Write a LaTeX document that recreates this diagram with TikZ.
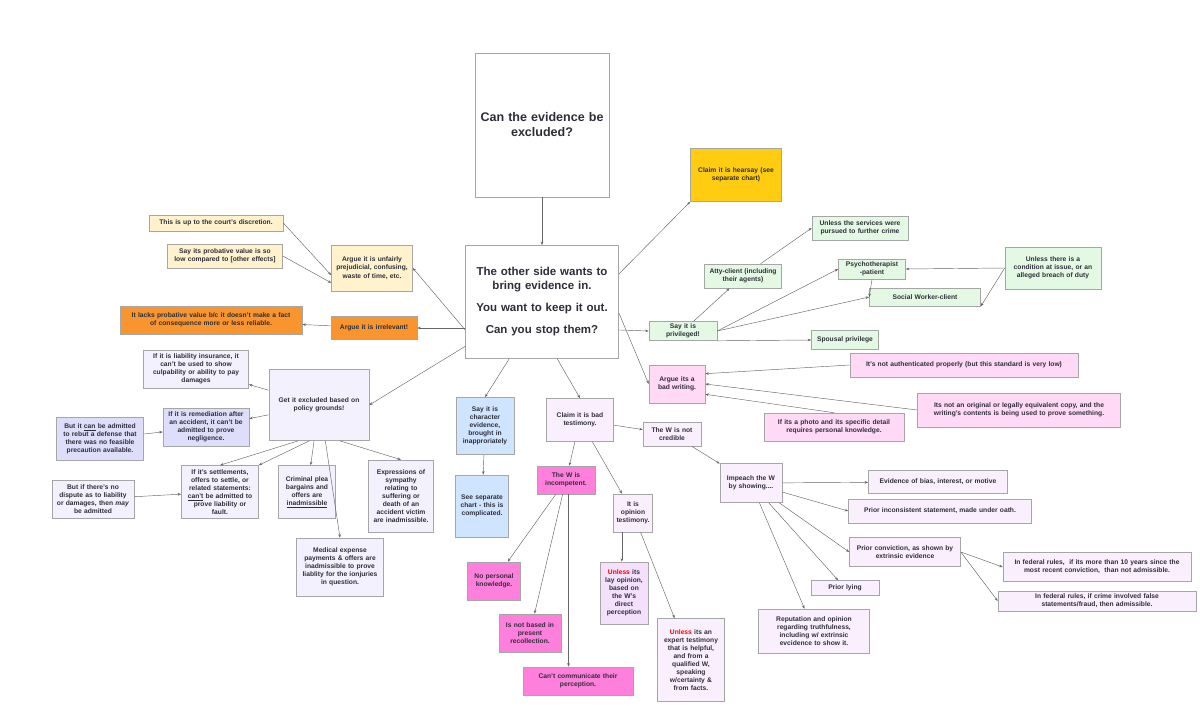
\documentclass[tikz,border=0pt]{standalone}
\usepackage{fontspec}
\setmainfont{Liberation Sans}
\usetikzlibrary{arrows.meta}
\definecolor{cream}{HTML}{FFF2CC}
\definecolor{orng}{HTML}{F8952F}
\definecolor{gold}{HTML}{FFCC11}
\definecolor{lav}{HTML}{F2F1FD}
\definecolor{lavd}{HTML}{DEDDFA}
\definecolor{lblue}{HTML}{CFE4FF}
\definecolor{pinkw}{HTML}{FFD9F5}
\definecolor{mag}{HTML}{FF80DC}
\definecolor{lpink}{HTML}{FAF0FD}
\definecolor{mpink}{HTML}{F4E0FA}
\definecolor{grn}{HTML}{E4F9E4}
\definecolor{txt}{HTML}{2E2E3A}
\tikzset{
 box/.style={draw=black!35, line width=0.6pt, align=center, inner sep=1pt, text=txt,
   font=\bfseries\fontsize{6.7}{8.1}\selectfont},
 big/.style={font=\bfseries\fontsize{12.5}{15}\selectfont},
 ar/.style={draw=black!60, line width=0.45pt, -{Stealth[length=3.5pt,width=2.6pt]}}
}
\newcommand\bx[7][]{\pgfmathsetmacro\tw{#5-4}%
 \node[box,fill=#2,minimum width=#5pt,minimum height=#6pt,text width=\tw pt,#1] (#3) at (#4) {#7};}
\begin{document}
\begin{tikzpicture}[x=1pt,y=-1pt]
\useasboundingbox (0,0) rectangle (1200,720);
\bx[big]{white}{top}{542,125}{134}{144}{Can the evidence be\\excluded?}
\bx[big,font=\bfseries\fontsize{11.5}{14}\selectfont]{white}{main}{542,302}{153}{113}{The other side wants to\\bring evidence in.\\[8pt]You want to keep it out.\\[8pt]Can you stop them?}
\bx{gold}{hearsay}{736,175}{91}{53}{Claim it is hearsay (see\\separate chart)}
\bx{cream}{unfair}{372,268}{81}{46}{Argue it is unfairly\\prejudicial, confusing,\\waste of time, etc.}
\bx{cream}{discr}{216,223}{134}{16}{This is up to the court's discretion.}
\bx{cream}{prob}{225,256}{115}{24}{Say its probative value is so\\low compared to [other effects]}
\bx{orng}{irrel}{374,328}{86}{23}{Argue it is irrelevant!}
\bx{orng}{lacks}{211,320}{182}{28}{It lacks probative value b/c it doesn't make a fact\\of consequence more or less reliable.}
\bx{lav}{policy}{319,405}{100}{71}{Get it excluded based on\\policy grounds!}
\bx{lav}{liab}{196,369}{105}{38}{If it is liability insurance, it\\can't be used to show\\culpability or ability to pay\\damages}
\bx{lavd}{remed}{206,427}{86}{38}{If it is remediation after\\an accident, it can't be\\admitted to prove\\negligence.}
\bx{lavd}{butcan}{100,439}{87}{43}{But it \underline{can} be admitted\\to rebut a defense that\\there was no feasible\\precaution available.}
\bx{lav}{settle}{220,492}{77}{53}{If it's settlements,\\offers to settle, or\\related statements:\\\underline{can't} be admitted to\\prove liability or\\fault.}
\bx{lav}{butif}{93,499}{82}{38}{But if there's no\\dispute as to liability\\or damages, then \textit{may}\\be admitted}
\bx{lav}{crim}{307,492}{57}{53}{Criminal plea\\bargains and\\offers are\\\underline{inadmissible}}
\bx{lav}{expr}{401,496}{65}{72}{Expressions of\\sympathy\\relating to\\suffering or\\death of an\\accident victim\\are inadmissible.}
\bx{lav}{medic}{340,567}{87}{58}{Medical expense\\payments \& offers are\\inadmissible to prove\\liablity for the ionjuries\\in question.}
\bx{lblue}{charac}{485,426}{58}{57}{Say it is\\character\\evidence,\\brought in\\inapproriately}
\bx{lblue}{seesep}{482,506}{53}{62}{See separate\\chart - this is\\complicated.}
\bx{lpink}{badtest}{580,420}{67}{43}{Claim it is bad\\testimony.}
\bx{lpink}{notcred}{672,434}{58}{24}{The W is not\\credible}
\bx{mag}{incomp}{566,480}{58}{28}{The W is\\incompetent.}
\bx{lpink}{opin}{633,513}{39}{38}{It is\\opinion\\testimony.}
\bx{mag}{nopers}{494,581}{53}{38}{No personal\\knowledge.}
\bx{mag}{notbased}{530,633}{62}{38}{Is not based in\\present\\recollection.}
\bx{mag}{cantcomm}{578,681}{110}{28}{Can't communicate their\\perception.}
\bx{mpink}{unlay}{624,593}{48}{62}{\textcolor{red}{Unless} its\\lay opinion,\\based on\\the W's\\direct\\perception}
\bx{lpink}{unexp}{691,660}{67}{83}{\textcolor{red}{Unless} its an\\expert testimony\\that is helpful,\\and from a\\qualified W,\\speaking\\w/certainty \&\\from facts.}
\bx{lpink}{impeach}{751,483}{62}{39}{Impeach the W\\by showing....}
\bx{lpink}{bias}{938,482}{139}{23}{Evidence of bias, interest, or motive}
\bx{lpink}{incons}{940,511}{183}{24}{Prior inconsistent statement, made under oath.}
\bx{lpink}{conv}{905,552}{111}{29}{Prior conviction, as shown by\\extrinsic evidence}
\bx{lpink}{fedten}{1097,567}{188}{29}{In federal rules,\ \ if its more than 10 years since the\\most recent conviction,\ \ than not admissible.}
\bx{lpink}{fedfraud}{1097,601}{198}{20}{In federal rules, if crime involved false\\statements/fraud, then admissible.}
\bx{lpink}{lying}{845,588}{68}{15}{Prior lying}
\bx{lpink}{reput}{814,631}{111}{44}{Reputation and opinion\\regarding truthfulness,\\including w/ extrinsic\\evcidence to show it.}
\bx{grn}{priv}{683,331}{68}{19}{Say it is\\privileged!}
\bx{grn}{atty}{743,276}{77}{24}{Atty-client (including\\their agents)}
\bx{grn}{svc}{860,228}{96}{24}{Unless the services were\\pursued to further crime}
\bx{grn}{psych}{872,269}{67}{20}{Psychotherapist\\-patient}
\bx{grn}{social}{925,297}{111}{18}{Social Worker-client}
\bx{grn}{cond}{1053,268}{96}{42}{Unless there is a\\condition at issue, or an\\alleged breach of duty}
\bx{grn}{spouse}{845,340}{67}{19}{Spousal privilege}
\bx{pinkw}{badw}{677,384}{56}{38}{Argue its a\\bad writing.}
\bx{pinkw}{auth}{964,365}{228}{24}{It's not authenticated properly (but this standard is very low)}
\bx{pinkw}{orig}{1019,410}{203}{34}{Its not an original or legally equivalent copy, and the\\writing's contents is being used to prove something.}
\bx{pinkw}{photo}{834,427}{140}{28}{If its a photo and its specific detail\\requires personal knowledge.}
% connectors
\draw[ar] (top) -- (main);
\draw[ar] (main.20) -- (hearsay.south west);
\draw[ar] (main.200) -- (unfair.east);
\draw[ar] (main.west |- irrel) -- (irrel);
\draw[ar] (main.210) -- (policy.east);
\draw[ar] (main.-20) -- (priv.west);
\draw[ar] (main.-8) -- (badw.west);
\draw[ar] (main.-120) -- (charac.north);
\draw[ar] (main.-75) -- (badtest.north);
\draw[ar] (discr.east) -- (unfair.-170);
\draw[ar] (prob.east) -- (unfair.-160);
\draw[ar] (irrel) -- (lacks);
\draw[ar] (policy) -- (liab);
\draw[ar] (policy) -- (remed);
\draw[ar] (policy.-120) -- (settle.north);
\draw[ar] (policy.-105) -- (settle.north east);
\draw[ar] (policy) -- (crim);
\draw[ar] (policy.-60) -- (expr.north);
\draw[ar] (policy.-80) -- (medic.north);
\draw[ar] (butcan) -- (remed);
\draw[ar] (butif) -- (settle);
\draw[ar] (charac) -- (seesep);
\draw[ar] (badtest) -- (incomp);
\draw[ar] (badtest) -- (opin);
\draw[ar] (badtest) -- (notcred);
\draw[ar] (incomp) -- (nopers);
\draw[ar] (incomp) -- (notbased);
\draw[ar] (incomp.-80) -- (cantcomm.north -| incomp.-80);
\draw[ar] (opin.-120) -- (unlay.north -| opin.-120);
\draw[ar] (opin) -- (unexp);
\draw[ar] (notcred) -- (impeach);
\draw[ar] (impeach) -- (bias);
\draw[ar] (impeach) -- (incons.west);
\draw[ar] (impeach) -- (conv.west);
\draw[ar] (impeach) -- (lying);
\draw[ar] (impeach) -- (reput);
\draw[ar] (conv.east) -- (fedten.west);
\draw[ar] (conv.east) -- (fedfraud.west);
\draw[ar] (priv) -- (atty);
\draw[ar] (atty) -- (svc.west);
\draw[ar] (priv.east) -- (psych.west);
\draw[ar] (priv.east) -- (social.west);
\draw[ar] (priv.south east) -- (spouse.west);
\draw[ar] (psych.south) -- (social.west);
\draw[ar] (cond.west) -- (psych.east);
\draw[ar] (cond.west) -- (social.south east);
\draw[ar] (auth.west) -- (badw.20);
\draw[ar] (orig.west) -- (badw.east);
\draw[ar] (photo.north) -- (badw.-20);
\end{tikzpicture}
\end{document}
